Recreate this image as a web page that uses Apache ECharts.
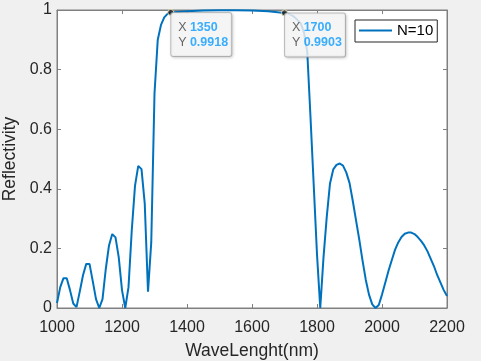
<!DOCTYPE html>
<html>
<head>
<meta charset="utf-8">
<script src="https://cdn.jsdelivr.net/npm/echarts@6/dist/echarts.min.js"></script>
<style>
html,body{margin:0;padding:0;background:#f0f0f0;}
#c{width:481px;height:361px;}
</style>
</head>
<body>
<div id="c"></div>
<script>
var wavelength = [1000,1010,1020,1030,1040,1050,1060,1070,1080,1090,1100,1110,1120,1130,1140,1150,1160,1170,1180,1190,1200,1210,1220,1230,1240,1250,1260,1270,1280,1290,1300,1310,1320,1330,1340,1350,1400,1450,1500,1550,1600,1650,1700,1710,1720,1730,1740,1750,1760,1770,1780,1790,1800,1810,1820,1830,1840,1850,1860,1870,1880,1890,1900,1910,1920,1930,1940,1950,1960,1970,1980,1990,2000,2010,2020,2030,2040,2050,2060,2070,2080,2090,2100,2110,2120,2130,2140,2150,2160,2170,2180,2190,2200];
var reflectivity = [0.017,0.07,0.10,0.10,0.06,0.015,0.003,0.055,0.11,0.148,0.148,0.09,0.03,0.0,0.03,0.13,0.21,0.248,0.237,0.17,0.06,0.0,0.07,0.26,0.41,0.477,0.466,0.35,0.055,0.22,0.72,0.90,0.95,0.975,0.987,0.9918,0.996,0.998,0.999,0.999,0.998,0.996,0.9903,0.988,0.984,0.977,0.966,0.955,0.925,0.86,0.64,0.41,0.18,0.0,0.17,0.306,0.418,0.465,0.48,0.485,0.478,0.455,0.42,0.36,0.295,0.23,0.16,0.095,0.045,0.012,0.0,0.01,0.045,0.085,0.125,0.16,0.195,0.22,0.238,0.249,0.253,0.253,0.248,0.238,0.225,0.21,0.19,0.165,0.14,0.11,0.085,0.06,0.04];
var tipX = [1350, 1700];
var tipY = [0.9918, 0.9903];
var seriesName = 'N=10';
var xTitle = 'WaveLenght(nm)';
var yTitle = 'Reflectivity';

var FONT = "'Liberation Sans', Arial, Helvetica, sans-serif";
var AX = '#808080';
var TXT = '#262626';

var lineData = wavelength.map(function(w, i){ return [w, reflectivity[i]]; });
var tipData = tipX.map(function(x, i){ return [x, tipY[i]]; });

var chart = echarts.init(document.getElementById('c'), null, {renderer:'canvas'});
var option = {
  backgroundColor: '#f0f0f0',
  animation: false,
  textStyle: {fontFamily: FONT},
  grid: {left:57, right:34, top:10, bottom:53, containLabel:false, outerBoundsMode:'none',
         show:true, backgroundColor:'#ffffff', borderColor:AX, borderWidth:1},
  legend: {
    left: 355, top: 20,
    padding: [3,4,4,4],
    itemWidth: 33, itemHeight: 2, itemGap: 0,
    backgroundColor: '#ffffff', borderColor: TXT, borderWidth: 1,
    textStyle: {fontFamily: FONT, fontSize: 15, color: '#000000'},
    data: [{name: seriesName, icon: 'rect'}]
  },
  xAxis: [{
    type:'value', min:1000, max:2200, interval:200, position:'bottom',
    axisLine:{show:true, onZero:false, lineStyle:{color:AX}},
    axisTick:{show:true, inside:true, length:4, lineStyle:{color:AX}},
    axisLabel:{color:TXT, fontSize:16, fontFamily:FONT, margin:12,
               formatter: function(v){ return String(v); }},
    splitLine:{show:false},
    name: xTitle, nameLocation:'middle', nameGap:34,
    nameTextStyle:{color:TXT, fontSize:17.5, fontFamily:FONT}
  },{
    type:'value', min:1000, max:2200, interval:200, position:'top',
    axisLine:{show:true, onZero:false, lineStyle:{color:AX}},
    axisTick:{show:true, inside:true, length:4, lineStyle:{color:AX}},
    axisLabel:{show:false}, splitLine:{show:false}
  }],
  yAxis: [{
    type:'value', min:0, max:1, interval:0.2, position:'left',
    axisLine:{show:true, onZero:false, lineStyle:{color:AX}},
    axisTick:{show:true, inside:true, length:4, lineStyle:{color:AX}},
    axisLabel:{color:TXT, fontSize:16, fontFamily:FONT, margin:5,
               formatter: function(v){ return String(v); }},
    splitLine:{show:false},
    name: yTitle, nameLocation:'middle', nameGap:29,
    nameTextStyle:{color:TXT, fontSize:17.5, fontFamily:FONT}
  },{
    type:'value', min:0, max:1, interval:0.2, position:'right',
    axisLine:{show:true, onZero:false, lineStyle:{color:AX}},
    axisTick:{show:true, inside:true, length:4, lineStyle:{color:AX}},
    axisLabel:{show:false}, splitLine:{show:false}
  }],
  series: [{
    name: seriesName, type:'line', xAxisIndex:0, yAxisIndex:0,
    data: lineData, showSymbol:false, symbol:'none',
    lineStyle:{color:'#0072BD', width:2}, itemStyle:{color:'#0072BD'},
    clip:false, z:2
  },{
    name: 'tips', type:'scatter', xAxisIndex:0, yAxisIndex:0,
    data: tipData, symbol:'circle', symbolSize:6,
    itemStyle:{color:'#1a1a1a', borderColor:'#f5f0c0', borderWidth:1},
    z: 5,
    label: {
      show: true, position: [4,4], align:'left', verticalAlign:'top',
      backgroundColor:'#fbfbfd', borderColor:'#b4b4b4', borderWidth:1, borderRadius:2,
      shadowColor:'rgba(0,0,0,0.18)', shadowBlur:3, shadowOffsetX:1, shadowOffsetY:1,
      padding:[7,6,6,7], width:47, lineHeight:15,
      formatter: function(p){
        return '{k|X} {v|' + p.value[0] + '}\n{k|Y} {v|' + p.value[1].toFixed(4) + '}';
      },
      rich: {
        k: {color:'#404040', fontSize:12.5, fontFamily:FONT, lineHeight:15},
        v: {color:'#0a9bff', fontSize:12.5, fontWeight:'bold', fontFamily:FONT, lineHeight:15}
      }
    }
  }]
};
chart.setOption(option);
</script>
</body>
</html>
